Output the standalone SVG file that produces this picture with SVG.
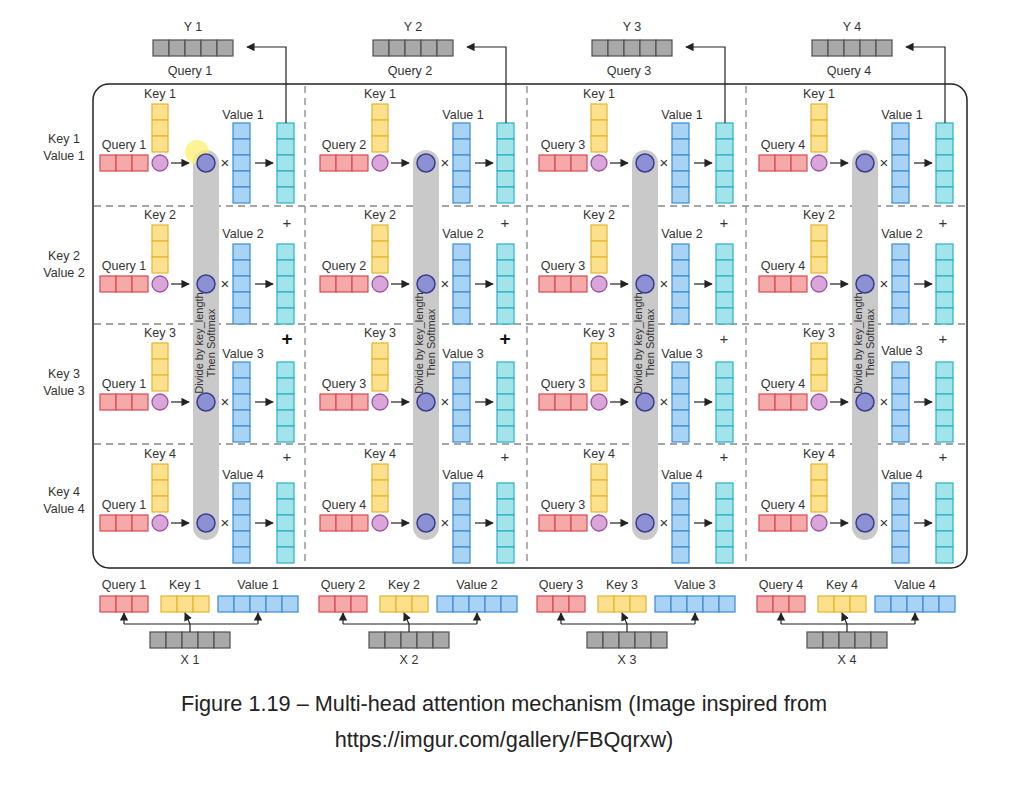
<svg xmlns="http://www.w3.org/2000/svg" xmlns:xlink="http://www.w3.org/1999/xlink" width="1016" height="802" viewBox="0 0 1016 802">
<style>
text{font-family:"Liberation Sans",Arial,sans-serif;font-size:12.5px;fill:#333;text-anchor:middle}
.cap{font-size:21.7px;fill:#222}
.sm{font-size:11px}
.pl{font-size:15px;fill:#333}
.bp{font-size:19px;font-weight:bold;fill:#111}
.ln{stroke:#222;stroke-width:1.2;fill:none}
.dash{stroke:#888;stroke-width:1.3;stroke-dasharray:7 5;fill:none}
.r{fill:#f5a9a9;stroke:#d84a52;stroke-width:1.2}
.y{fill:#fde08c;stroke:#e6b52e;stroke-width:1.2}
.b{fill:#a9d3f4;stroke:#3a8cd3;stroke-width:1.2}
.c{fill:#a3e3ea;stroke:#27b2c6;stroke-width:1.2}
.g{fill:#a9a9a9;stroke:#505050;stroke-width:1.2}
</style>
<defs>
<marker id="ah" viewBox="0 0 10 10" refX="9" refY="5" markerWidth="7" markerHeight="7" orient="auto-start-reverse"><path d="M0,0L10,5L0,10z" fill="#222"/></marker>
<g id="q3" class="r"><rect width="16" height="16"/><rect x="16" width="16" height="16"/><rect x="32" width="16" height="16"/></g>
<g id="yh" class="y"><rect width="16" height="16"/><rect x="16" width="16" height="16"/><rect x="32" width="16" height="16"/></g>
<g id="kv" class="y"><rect width="16" height="16"/><rect y="16" width="16" height="16"/><rect y="32" width="16" height="16"/></g>
<g id="vv" class="b"><rect width="17" height="16"/><rect y="16" width="17" height="16"/><rect y="32" width="17" height="16"/><rect y="48" width="17" height="16"/><rect y="64" width="17" height="16"/></g>
<g id="cv" class="c"><rect width="17" height="16"/><rect y="16" width="17" height="16"/><rect y="32" width="17" height="16"/><rect y="48" width="17" height="16"/><rect y="64" width="17" height="16"/></g>
<g id="bh" class="b"><rect width="16" height="16"/><rect x="16" width="16" height="16"/><rect x="32" width="16" height="16"/><rect x="48" width="16" height="16"/><rect x="64" width="16" height="16"/></g>
<g id="gh" class="g"><rect width="16" height="16"/><rect x="16" width="16" height="16"/><rect x="32" width="16" height="16"/><rect x="48" width="16" height="16"/><rect x="64" width="16" height="16"/></g>
<g id="cell">
<use href="#q3" x="100" y="155"/>
<circle cx="160" cy="163" r="8" fill="#d9a6d9" stroke="#a14ea1" stroke-width="1.3"/>
<use href="#kv" x="152" y="104"/>
<line x1="171" y1="163" x2="189" y2="163" class="ln" marker-end="url(#ah)"/>
<circle cx="206" cy="163" r="9" fill="#8d90d2" stroke="#383d8e" stroke-width="1.5"/>
<text x="225" y="168" style="font-size:15px">×</text>
<use href="#vv" x="233" y="123"/>
<line x1="255" y1="163" x2="273" y2="163" class="ln" marker-end="url(#ah)"/>
<use href="#cv" x="277" y="123"/>
</g>
</defs>
<rect width="1016" height="802" fill="#fff"/>
<rect x="93" y="84" width="874" height="484" rx="16" fill="none" stroke="#222" stroke-width="1.5"/>
<g id="dividers">
<path class="dash" d="M305 86V566M527 86V566M746 86V566M94 206H966M94 324H966M94 444H966"/>
</g>
<g id="pills" fill="#c9c9c9">
<rect x="193" y="150" width="26" height="390" rx="13"/>
<rect x="413" y="150" width="26" height="390" rx="13"/>
<rect x="632" y="150" width="26" height="390" rx="13"/>
<rect x="852" y="150" width="26" height="390" rx="13"/>
</g>
<circle cx="197" cy="152" r="12" fill="#fdf07a" opacity="0.8"/>
<g id="pill-labels">
<text transform="rotate(-90 203 343)" x="203" y="343" class="sm">Divide by key_length</text><text transform="rotate(-90 215 343)" x="215" y="343" class="sm">Then Softmax</text>
<text transform="rotate(-90 423 343)" x="423" y="343" class="sm">Divide by key_length</text><text transform="rotate(-90 435 343)" x="435" y="343" class="sm">Then Softmax</text>
<text transform="rotate(-90 642 343)" x="642" y="343" class="sm">Divide by key_length</text><text transform="rotate(-90 654 343)" x="654" y="343" class="sm">Then Softmax</text>
<text transform="rotate(-90 862 343)" x="862" y="343" class="sm">Divide by key_length</text><text transform="rotate(-90 874 343)" x="874" y="343" class="sm">Then Softmax</text>
</g>
<g id="row-labels">
<text x="64" y="143">Key 1</text><text x="64" y="160">Value 1</text>
<text x="64" y="260">Key 2</text><text x="64" y="277">Value 2</text>
<text x="64" y="378">Key 3</text><text x="64" y="395">Value 3</text>
<text x="64" y="496">Key 4</text><text x="64" y="513">Value 4</text>
</g>
<g id="cell-1-1"><use href="#cell"/><text x="160" y="98">Key 1</text><text x="124" y="149">Query 1</text><text x="243" y="119">Value 1</text></g>
<g id="cell-1-2"><use href="#cell" y="121"/><text x="160" y="219">Key 2</text><text x="124" y="270">Query 1</text><text x="243" y="238">Value 2</text><text class="pl" x="287" y="228">+</text></g>
<g id="cell-1-3"><use href="#cell" y="239"/><text x="160" y="337">Key 3</text><text x="124" y="388">Query 1</text><text x="243" y="358">Value 3</text><text class="bp" x="287" y="345">+</text></g>
<g id="cell-1-4"><use href="#cell" y="360"/><text x="160" y="458">Key 4</text><text x="124" y="509">Query 1</text><text x="243" y="479">Value 4</text><text class="pl" x="287" y="462">+</text></g>
<g id="cell-2-1"><use href="#cell" x="220"/><text x="380" y="98">Key 1</text><text x="344" y="149">Query 2</text><text x="463" y="119">Value 1</text></g>
<g id="cell-2-2"><use href="#cell" x="220" y="121"/><text x="380" y="219">Key 2</text><text x="344" y="270">Query 2</text><text x="463" y="238">Value 2</text><text class="pl" x="505" y="228">+</text></g>
<g id="cell-2-3"><use href="#cell" x="220" y="239"/><text x="380" y="337">Key 3</text><text x="344" y="388">Query 3</text><text x="463" y="358">Value 3</text><text class="bp" x="505" y="345">+</text></g>
<g id="cell-2-4"><use href="#cell" x="220" y="360"/><text x="380" y="458">Key 4</text><text x="344" y="509">Query 4</text><text x="463" y="479">Value 4</text><text class="pl" x="505" y="462">+</text></g>
<g id="cell-3-1"><use href="#cell" x="439"/><text x="599" y="98">Key 1</text><text x="563" y="149">Query 3</text><text x="682" y="119">Value 1</text></g>
<g id="cell-3-2"><use href="#cell" x="439" y="121"/><text x="599" y="219">Key 2</text><text x="563" y="270">Query 3</text><text x="682" y="238">Value 2</text><text class="pl" x="724" y="228">+</text></g>
<g id="cell-3-3"><use href="#cell" x="439" y="239"/><text x="599" y="337">Key 3</text><text x="563" y="388">Query 3</text><text x="682" y="358">Value 3</text><text class="pl" x="724" y="344">+</text></g>
<g id="cell-3-4"><use href="#cell" x="439" y="360"/><text x="599" y="458">Key 4</text><text x="563" y="509">Query 3</text><text x="682" y="479">Value 4</text><text class="pl" x="724" y="462">+</text></g>
<g id="cell-4-1"><use href="#cell" x="659"/><text x="819" y="98">Key 1</text><text x="783" y="149">Query 4</text><text x="902" y="119">Value 1</text></g>
<g id="cell-4-2"><use href="#cell" x="659" y="121"/><text x="819" y="219">Key 2</text><text x="783" y="270">Query 4</text><text x="902" y="238">Value 2</text><text class="pl" x="943" y="228">+</text></g>
<g id="cell-4-3"><use href="#cell" x="659" y="239"/><text x="819" y="337">Key 3</text><text x="783" y="388">Query 4</text><text x="902" y="355">Value 3</text><text class="pl" x="943" y="344">+</text></g>
<g id="cell-4-4"><use href="#cell" x="659" y="360"/><text x="819" y="458">Key 4</text><text x="783" y="509">Query 4</text><text x="902" y="479">Value 4</text><text class="pl" x="943" y="462">+</text></g>
<g id="out-1"><text x="193" y="31">Y 1</text><use href="#gh" x="153" y="40"/><text x="190" y="75">Query 1</text></g>
<g id="out-2"><text x="413" y="31">Y 2</text><use href="#gh" x="373" y="40"/><text x="410" y="75">Query 2</text></g>
<g id="out-3"><text x="632" y="31">Y 3</text><use href="#gh" x="592" y="40"/><text x="629" y="75">Query 3</text></g>
<g id="out-4"><text x="852" y="31">Y 4</text><use href="#gh" x="812" y="40"/><text x="849" y="75">Query 4</text></g>
<g id="in-1"><text x="124" y="589">Query 1</text><text x="185" y="589">Key 1</text><text x="258" y="589">Value 1</text><use href="#q3" x="100" y="596"/><use href="#yh" x="161" y="596"/><use href="#bh" x="218" y="596"/><use href="#gh" x="150" y="632"/><text x="190" y="664">X 1</text></g>
<g id="in-2"><text x="343" y="589">Query 2</text><text x="404" y="589">Key 2</text><text x="477" y="589">Value 2</text><use href="#q3" x="319" y="596"/><use href="#yh" x="380" y="596"/><use href="#bh" x="437" y="596"/><use href="#gh" x="369" y="632"/><text x="409" y="664">X 2</text></g>
<g id="in-3"><text x="561" y="589">Query 3</text><text x="622" y="589">Key 3</text><text x="695" y="589">Value 3</text><use href="#q3" x="537" y="596"/><use href="#yh" x="598" y="596"/><use href="#bh" x="655" y="596"/><use href="#gh" x="587" y="632"/><text x="627" y="664">X 3</text></g>
<g id="in-4"><text x="781" y="589">Query 4</text><text x="842" y="589">Key 4</text><text x="915" y="589">Value 4</text><use href="#q3" x="757" y="596"/><use href="#yh" x="818" y="596"/><use href="#bh" x="875" y="596"/><use href="#gh" x="807" y="632"/><text x="847" y="664">X 4</text></g>
<g id="connectors" class="ln">
<path d="M286 123V47H247" marker-end="url(#ah)"/>
<path d="M506 123V47H467" marker-end="url(#ah)"/>
<path d="M725 123V47H686" marker-end="url(#ah)"/>
<path d="M945 123V47H906" marker-end="url(#ah)"/>
<path d="M190 632V624M124 624H258"/><path d="M124 624V613" marker-end="url(#ah)"/><path d="M190 624L185 613" marker-end="url(#ah)"/><path d="M258 624V613" marker-end="url(#ah)"/>
<path d="M409 632V624M343 624H477"/><path d="M343 624V613" marker-end="url(#ah)"/><path d="M409 624L404 613" marker-end="url(#ah)"/><path d="M477 624V613" marker-end="url(#ah)"/>
<path d="M627 632V624M561 624H695"/><path d="M561 624V613" marker-end="url(#ah)"/><path d="M627 624L622 613" marker-end="url(#ah)"/><path d="M695 624V613" marker-end="url(#ah)"/>
<path d="M847 632V624M781 624H915"/><path d="M781 624V613" marker-end="url(#ah)"/><path d="M847 624L842 613" marker-end="url(#ah)"/><path d="M915 624V613" marker-end="url(#ah)"/>
</g>
<text class="cap" x="504" y="711">Figure 1.19 – Multi-head attention mechanism (Image inspired from</text>
<text class="cap" x="504" y="747">https://imgur.com/gallery/FBQqrxw)</text>
</svg>
